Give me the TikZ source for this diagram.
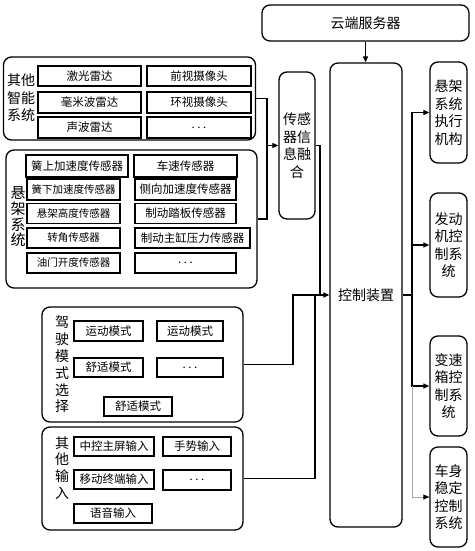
\documentclass[tikz,border=0pt]{standalone}
\usepackage{fontspec}
\setmainfont{Noto Sans CJK SC}
\usetikzlibrary{arrows.meta}
\newcommand\myfs[2]{\fontsize{#1}{#2}\selectfont}
\newcommand\mydots{.\hspace{2.5pt}.\hspace{2.5pt}.}
\begin{document}
\begin{tikzpicture}[x=1pt,y=-1pt,
  outer/.style={draw, line width=1.3pt, rounded corners=8pt, inner sep=0pt, align=center, font=\myfs{14}{17.5}},
  inbox/.style={draw, line width=1.1pt, inner sep=0pt, font=\myfs{11.5}{13}},
  lbl/.style={inner sep=0pt, align=center},
  conn/.style={line width=1.2pt},
  arr/.style={conn, -{Triangle[length=6pt,width=5pt]}}]
\useasboundingbox (0,0) rectangle (474,551);

% top and centre
\node[outer, minimum width=207pt, minimum height=36pt] (cloud) at (365.5,23) {云端服务器};
\node[outer, minimum width=72pt, minimum height=464pt] (ctrl) at (366,295) {控制装置};
\node[outer, minimum width=36pt, minimum height=147pt] (fus) at (297,145.5) {传感\\器信\\息融\\合};

% right boxes
\node[outer, minimum width=37pt, minimum height=101pt] (act) at (448.5,112.5) {悬架\\系统\\执行\\机构};
\node[outer, minimum width=37pt, minimum height=104pt] (eng) at (448.5,245) {发动\\机控\\制系\\统};
\node[outer, minimum width=37pt, minimum height=100pt] (gear) at (448.5,386) {变速\\箱控\\制系\\统};
\node[outer, minimum width=37pt, minimum height=100pt] (esp) at (448.5,497) {车身\\稳定\\控制\\系统};

% other smart systems
\node[outer, minimum width=252pt, minimum height=83pt] (oth) at (129.5,98.5) {};
\node[lbl, font=\myfs{14}{17.5}] (othl) at (21,98) {其他\\智能\\系统};
\node[inbox, minimum width=103pt, minimum height=20pt] (o1) at (89.5,76) {激光雷达};
\node[inbox, minimum width=104pt, minimum height=20pt] (o2) at (199,76) {前视摄像头};
\node[inbox, minimum width=103pt, minimum height=21pt] (o3) at (89.5,102.5) {毫米波雷达};
\node[inbox, minimum width=104pt, minimum height=21pt] (o4) at (199,102.5) {环视摄像头};
\node[inbox, minimum width=103pt, minimum height=21pt] (o5) at (89.5,127.5) {声波雷达};
\node[inbox, minimum width=104pt, minimum height=21pt] (o6) at (199,127.5) {\mydots};

% suspension system
\node[outer, minimum width=251pt, minimum height=138pt] (sus) at (131.5,219) {};
\node[lbl, font=\myfs{15}{15.7}] (susl) at (18,217) {悬\\架\\系\\统};
\node[inbox, minimum width=102pt, minimum height=22pt] (s1) at (77,166) {簧上加速度传感器};
\node[inbox, minimum width=103pt, minimum height=22pt] (s2) at (185.5,166) {车速传感器};
\node[inbox, minimum width=93pt, minimum height=21pt, font=\myfs{10.5}{12}] (s3) at (73.5,189.5) {簧下加速度传感器};
\node[inbox, minimum width=101pt, minimum height=21pt] (s4) at (185.5,189.5) {侧向加速度传感器};
\node[inbox, minimum width=93pt, minimum height=20pt, font=\myfs{10.5}{12}] (s5) at (73.5,213.5) {悬架高度传感器};
\node[inbox, minimum width=101pt, minimum height=20pt] (s6) at (185.5,213.5) {制动踏板传感器};
\node[inbox, minimum width=93pt, minimum height=20pt, font=\myfs{10.5}{12}] (s7) at (73.5,238) {转角传感器};
\node[inbox, minimum width=115pt, minimum height=20pt] (s8) at (192.5,238) {制动主缸压力传感器};
\node[inbox, minimum width=93pt, minimum height=20pt, font=\myfs{10.5}{12}] (s9) at (73.5,263) {油门开度传感器};
\node[inbox, minimum width=101pt, minimum height=20pt] (s10) at (185.5,263) {\mydots};

% driving mode selection
\node[outer, minimum width=201pt, minimum height=115pt] (drv) at (142.5,364.5) {};
\node[lbl, font=\myfs{14}{16.8}] (drvl) at (62,364.5) {驾\\驶\\模\\式\\选\\择};
\node[inbox, minimum width=69pt, minimum height=20pt] (m1) at (108.5,331) {运动模式};
\node[inbox, minimum width=66pt, minimum height=20pt] (m2) at (190,331) {运动模式};
\node[inbox, minimum width=69pt, minimum height=19pt] (m3) at (108.5,367.5) {舒适模式};
\node[inbox, minimum width=66pt, minimum height=19pt] (m4) at (190,367.5) {\mydots};
\node[inbox, minimum width=68pt, minimum height=19pt] (m5) at (138,406.5) {舒适模式};

% other inputs
\node[outer, minimum width=201pt, minimum height=103pt] (inp) at (142.5,478.5) {};
\node[lbl, font=\myfs{14}{16.8}] (inpl) at (62,468) {其\\他\\输\\入};
\node[inbox, minimum width=80pt, minimum height=19pt] (i1) at (114,446.5) {中控主屏输入};
\node[inbox, minimum width=68pt, minimum height=19pt] (i2) at (197,446.5) {手势输入};
\node[inbox, minimum width=80pt, minimum height=19pt] (i3) at (114,479.5) {移动终端输入};
\node[inbox, minimum width=68pt, minimum height=20pt] (i4) at (197,480) {\mydots};
\node[inbox, minimum width=78pt, minimum height=19pt] (i5) at (113,513.5) {语音输入};

% junction coordinates
\coordinate (j1) at (267,145.5);
\coordinate (j2) at (320,295);
\coordinate (j3) at (293,295);
\coordinate (j4) at (315,295);
\coordinate (k) at (412,295);

% connectors
\draw[conn] (oth.east) -| (j1) |- (sus.east);
\draw[arr] (j1) -- (fus.west);
\draw[conn] (fus.east) -| (j2);
\draw[conn] (inp.east) -| (j4);
\draw[arr] (drv.east) -| (j3) -- (ctrl.west);
\draw[arr] (cloud.south) -- (cloud.south |- ctrl.north);
\draw[conn] (ctrl.east) -- (k);
\draw[arr] (k) |- (act.west);
\draw[arr] (k) |- (eng.west);
\draw[arr] (k) |- (gear.west);
\draw[conn, gray!70, line width=0.8pt, -{Triangle[length=6pt,width=5pt,black]}] (gear.west -| k) |- (esp.west);
\end{tikzpicture}
\end{document}
